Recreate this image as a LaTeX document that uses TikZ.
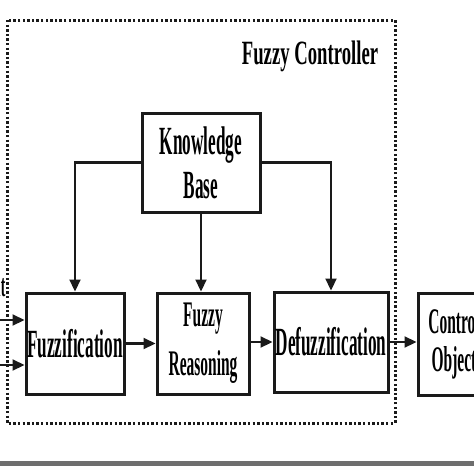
\documentclass[tikz,border=0pt]{standalone}
\usepackage{fontspec}
\usepackage{tikz}
\usetikzlibrary{arrows.meta}
\newfontfamily\boxfont[FakeStretch=0.43]{Liberation Serif Bold}
\newfontfamily\titlefont[FakeStretch=0.55]{Liberation Serif Bold}
\definecolor{ink}{HTML}{1A1A1A}
\definecolor{rule}{HTML}{6E6E6E}
\tikzset{
  block/.style={rectangle, draw=ink, line width=3pt, inner sep=0pt, align=center,
    font=\boxfont\fontsize{40}{44}\selectfont},
  chan/.style ={draw=ink, line width=2.2pt},
  frame/.style={draw=ink, line width=3pt, dash pattern=on 2.4pt off 2.2pt},
  >={Triangle[length=12pt,width=11pt]},
}
\begin{document}
\begin{tikzpicture}[x=1pt,y=-1pt]
\useasboundingbox (0,0) rectangle (474,474);
% controller frame
\draw[frame] (7,20) rectangle (395,423);
\node[font=\titlefont\fontsize{34}{38}\selectfont] (title) at (310,56) {Fuzzy Controller};
% blocks
\node[block, minimum width=118pt, minimum height=99pt] (kb) at (201,162.5) {Knowledge\\Base};
\node[block, minimum width=98pt, minimum height=101pt] (fuz) at (75,343.5) {Fuzzification};
\node[block, minimum width=92pt, minimum height=101pt,
  font=\boxfont\fontsize{36}{49}\selectfont] (fr) at (203,343.5) {Fuzzy\\Reasoning};
\node[block, minimum width=114pt, minimum height=100pt] (dfz) at (331,342) {Defuzzification};
\node[block, minimum width=72pt, minimum height=102pt,
  font=\boxfont\fontsize{36}{38}\selectfont] (obj) at (454,344) {Control\\Object};
% inputs
\node[anchor=east, font=\boxfont\fontsize{32}{36}\selectfont] (inlbl) at (9,289) {Input};
\coordinate (in1) at (0,320);
\coordinate (in2) at (0,365);
\draw[chan,->] (in1) -- (in1 -| fuz.west);
\draw[chan,->] (in2) -- (in2 -| fuz.west);
% knowledge base links
\draw[chan,->] (kb.west) -| (fuz.north);
\draw[chan,->] (kb.south) -- (kb.south |- fr.north);
\draw[chan,->] (kb.east) -| (dfz.north);
% signal path
\draw[chan,->] (fuz.east) -- (fuz.east -| fr.west);
\draw[chan,->] (fr.east |- dfz.west) -- (dfz.west);
\draw[chan,->] (dfz.east) -- (dfz.east -| obj.west);
% rule under the figure
\draw[draw=rule, line width=5pt] (0,463) -- (474,463);
\end{tikzpicture}
\end{document}
